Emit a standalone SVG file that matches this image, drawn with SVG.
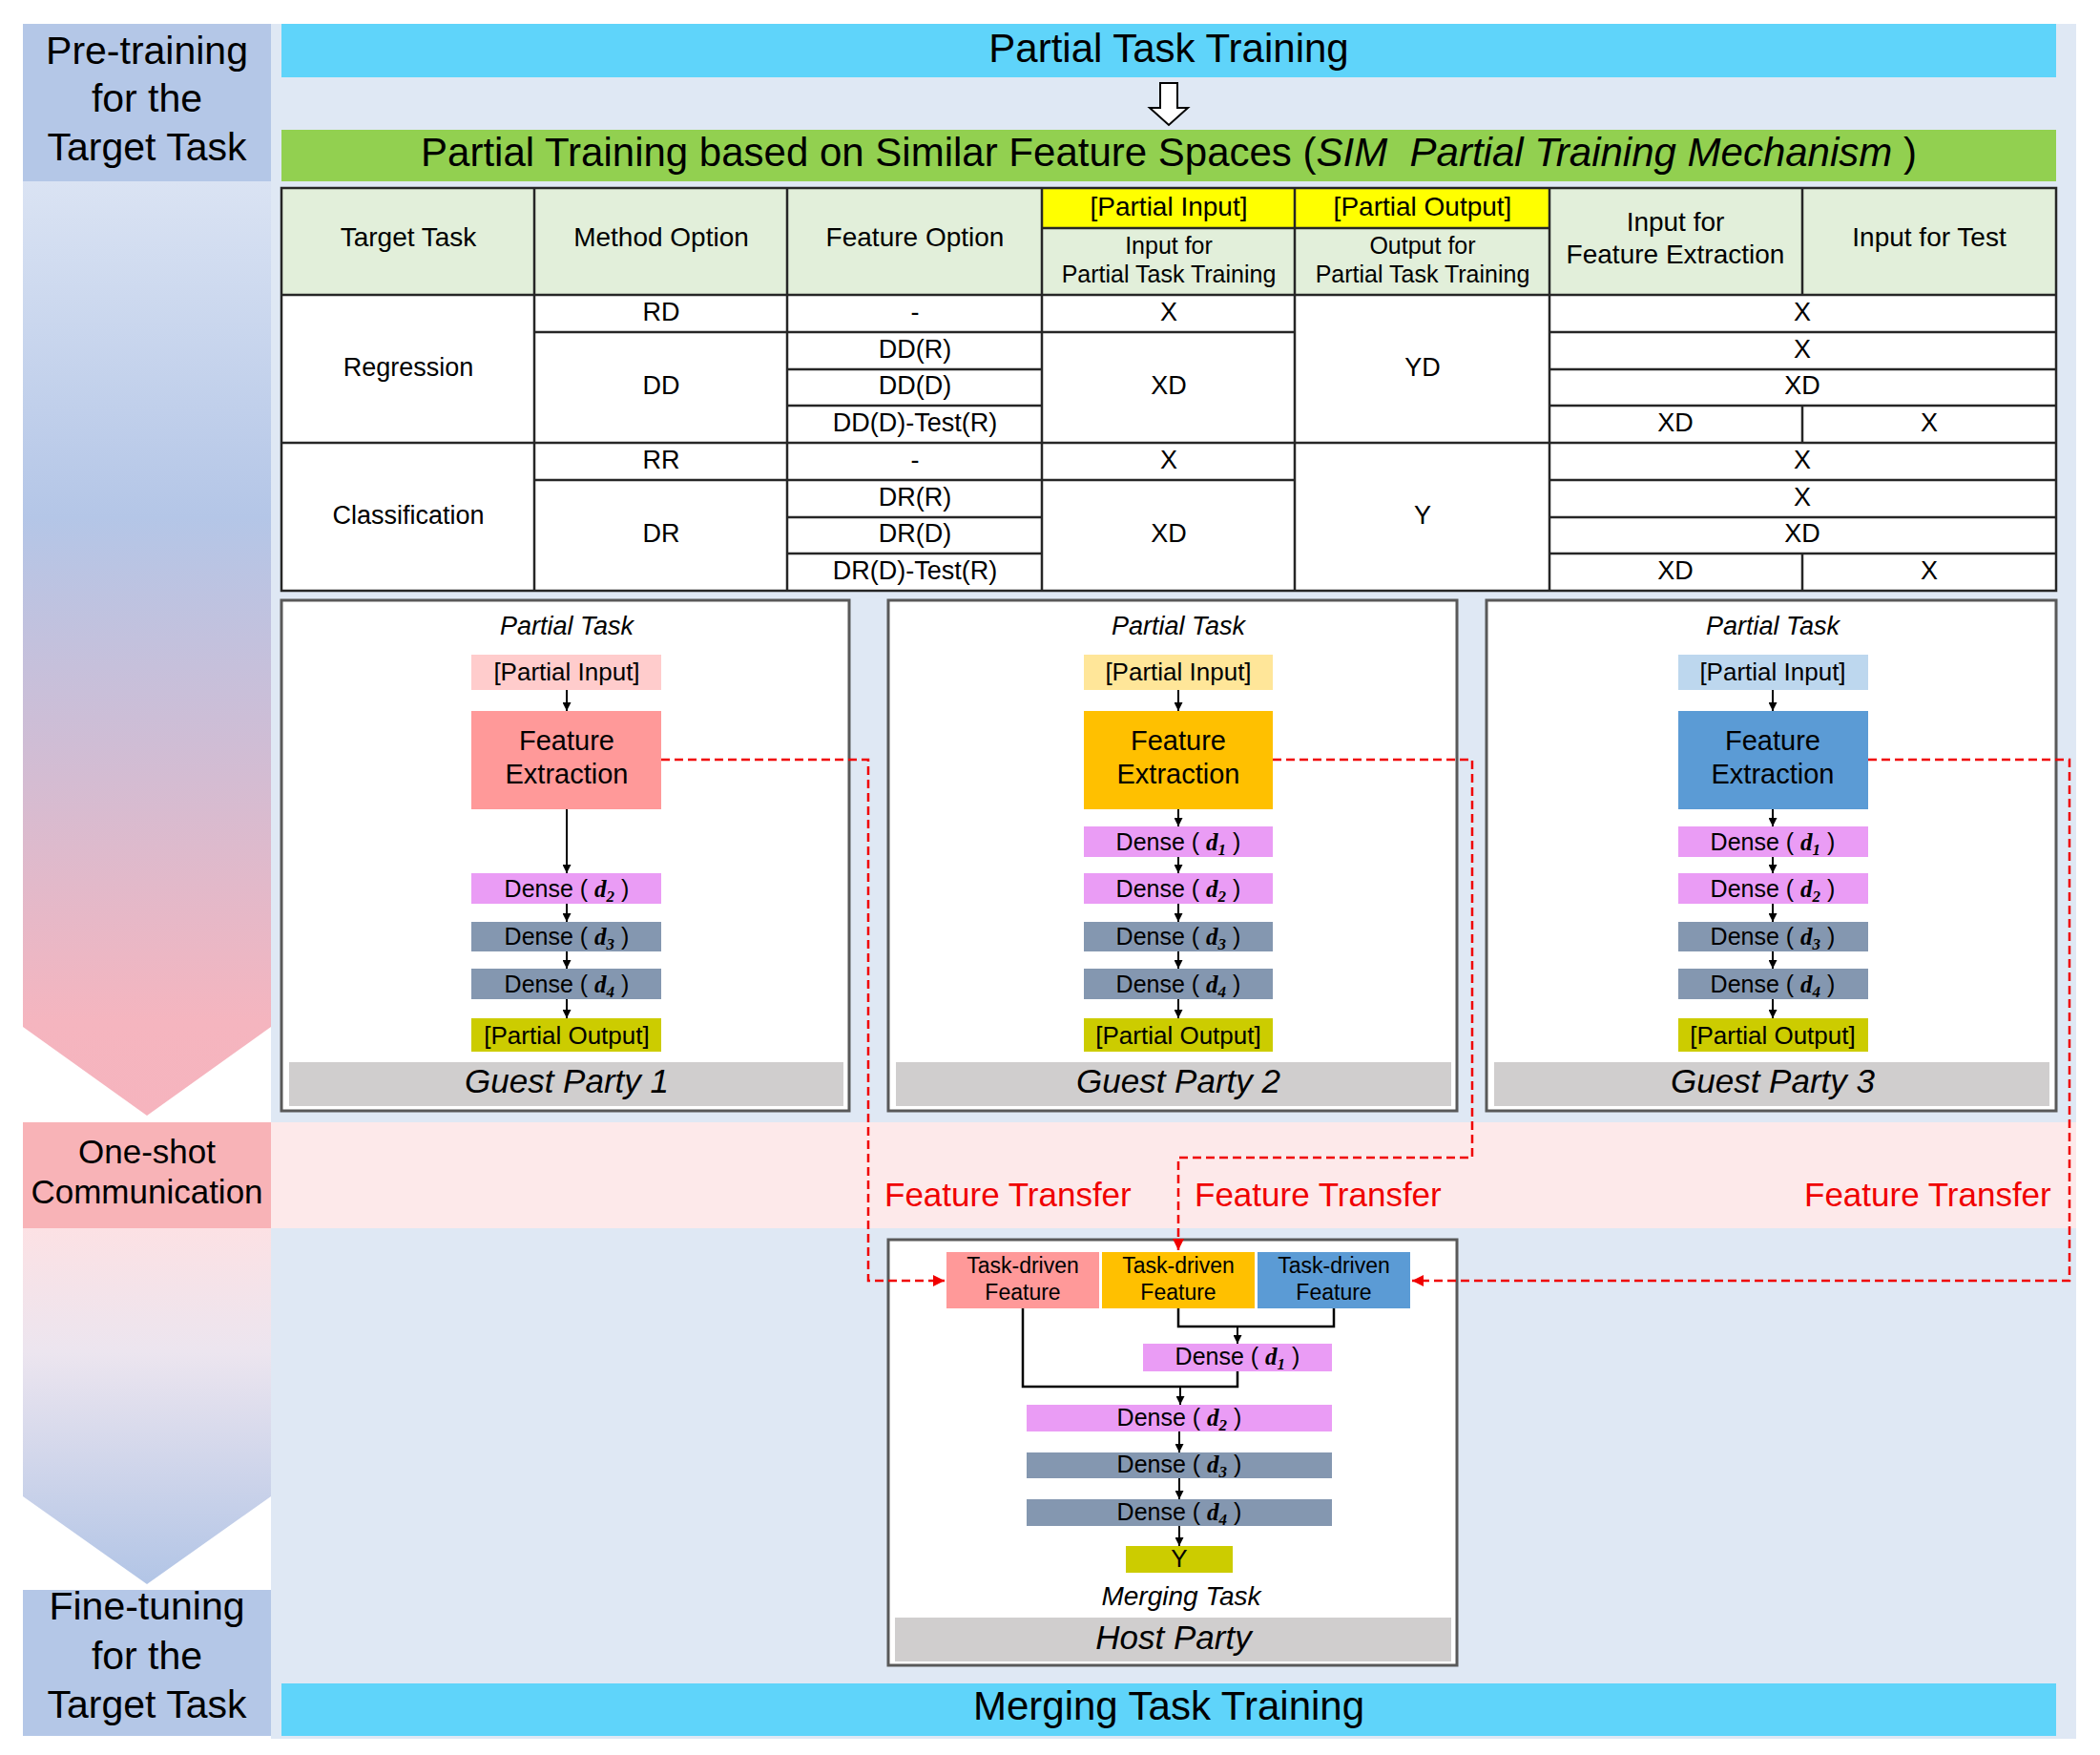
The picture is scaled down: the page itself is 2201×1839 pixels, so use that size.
<svg xmlns="http://www.w3.org/2000/svg" width="2201" height="1839" viewBox="0 0 2201 1839">
<defs>
<style>
text{font-family:"Liberation Sans",Arial,sans-serif;fill:#000;text-anchor:middle}
.it{font-style:italic}
.m{font-family:"Liberation Serif","DejaVu Serif",serif;font-style:italic;font-weight:bold}
.big{font-size:42px}
.lab{font-size:41px}
.th{font-size:28px}
.ts{font-size:25px}
.td{font-size:27px}
.pt{font-size:27px;font-style:italic}
.gp{font-size:35px;font-style:italic}
.blk{font-size:26px}
.fe{font-size:29px}
.dn{font-size:25px}
.tdf{font-size:23px}
.ft{font-size:35px;fill:#f00000;text-anchor:start}
.cell{fill:#fff}
.hd{fill:#e2efda}
.yl{fill:#ffff00}
.grid{stroke:#262626;stroke-width:2.5;fill:none}
.box{fill:#fff;stroke:#595959;stroke-width:3}
.bar{fill:#d0cece}
.pi1{fill:#ffcccc}.fe1{fill:#ff9999}
.pi2{fill:#ffe699}.fe2{fill:#ffc000}
.pi3{fill:#bdd7ee}.fe3{fill:#5b9bd5}
.dv{fill:#ea9cf5}.dg{fill:#8497b0}.po{fill:#cccc00}
.ar{stroke:#000;stroke-width:2;fill:none;marker-end:url(#ah)}
.ln{stroke:#000;stroke-width:2.5;fill:none}
.rda{stroke:#f00000;stroke-width:2.5;fill:none;stroke-dasharray:9 5;marker-end:url(#rah)}
</style>
<marker id="ah" viewBox="0 0 10 10" refX="10" refY="5" markerWidth="9" markerHeight="9" markerUnits="userSpaceOnUse" orient="auto"><path d="M0,0 L10,5 L0,10 z" fill="#000"/></marker>
<marker id="rah" viewBox="0 0 10 10" refX="10" refY="5" markerWidth="13" markerHeight="12" markerUnits="userSpaceOnUse" orient="auto"><path d="M0,0 L10,5 L0,10 z" fill="#f00000"/></marker>
<linearGradient id="g1" x1="0" y1="190" x2="0" y2="1169" gradientUnits="userSpaceOnUse">
<stop offset="0" stop-color="#dae3f3"/><stop offset="0.36" stop-color="#b4c6e7"/><stop offset="0.6" stop-color="#cfbdd5"/><stop offset="0.9" stop-color="#f5b5bf"/><stop offset="1" stop-color="#f6b4be"/>
</linearGradient>
<linearGradient id="g2" x1="0" y1="1287" x2="0" y2="1660" gradientUnits="userSpaceOnUse">
<stop offset="0" stop-color="#fce1e4"/><stop offset="0.35" stop-color="#ece5ef"/><stop offset="1" stop-color="#b2c5e6"/>
</linearGradient>
</defs>
<rect x="0" y="0" width="2201" height="1839" fill="#fff"/>
<g id="background">
<rect x="284" y="25" width="1892" height="1797" fill="#dfe8f4"/>
<rect x="284" y="1176" width="1892" height="111" fill="#fde9ea"/>
</g>
<g id="phase-column">
<rect x="24" y="25" width="260" height="165" fill="#b4c7e7"/>
<text class="lab" x="154" y="67">Pre-training</text>
<text class="lab" x="154" y="117">for the</text>
<text class="lab" x="154" y="168">Target Task</text>
<path d="M24,190 H284 V1076 L154,1169 L24,1076 Z" fill="url(#g1)"/>
<rect x="24" y="1176" width="260" height="111" fill="#f8b3b7"/>
<text x="154" y="1219" style="font-size:35px">One-shot</text>
<text x="154" y="1261" style="font-size:35px">Communication</text>
<path d="M24,1287 H284 V1568 L154,1660 L24,1568 Z" fill="url(#g2)"/>
<rect x="24" y="1666" width="260" height="153" fill="#b4c7e7"/>
<text class="lab" x="154" y="1697">Fine-tuning</text>
<text class="lab" x="154" y="1749">for the</text>
<text class="lab" x="154" y="1800">Target Task</text>
</g>
<g id="partial-task-training">
<rect x="295" y="25" width="1860" height="56" fill="#5fd4fa"/>
<text class="big" x="1225" y="65">Partial Task Training</text>
</g>
<g id="down-arrow">
<polygon points="1216,87 1234,87 1234,113 1245,113 1225,131 1205,113 1216,113" fill="#fff" stroke="#000" stroke-width="2"/>
</g>
<g id="sim-mechanism">
<rect x="295" y="136" width="1860" height="54" fill="#92d050"/>
<text class="big" x="1225" y="174">Partial Training based on Similar Feature Spaces (<tspan class="it">SIM&#160; Partial Training Mechanism</tspan> )</text>
</g>
<g id="table">
<rect x="295" y="197" width="1860" height="112" class="hd"/>
<rect x="1092" y="197" width="532" height="42" class="yl"/>
<rect x="295" y="309" width="1860" height="310" class="cell"/>
<path class="grid" d="M295,197 H2155 V619 H295 Z M560,197 V619 M825,197 V619 M1092,197 V619 M1357,197 V619 M1624,197 V619 M1889,197 V309 M1889,425 V464 M1889,580 V619 M1092,239 H1624 M295,309 H2155 M560,348 H1357 M1624,348 H2155 M825,387 H1092 M1624,387 H2155 M825,425 H1092 M1624,425 H2155 M295,464 H2155 M560,503 H1357 M1624,503 H2155 M825,542 H1092 M1624,542 H2155 M825,580 H1092 M1624,580 H2155"/>
<text class="th" x="428" y="258">Target Task</text>
<text class="th" x="693" y="258">Method Option</text>
<text class="th" x="959" y="258">Feature Option</text>
<text class="th" x="1225" y="226">[Partial Input]</text>
<text class="ts" x="1225" y="266">Input for</text>
<text class="ts" x="1225" y="296">Partial Task Training</text>
<text class="th" x="1491" y="226">[Partial Output]</text>
<text class="ts" x="1491" y="266">Output for</text>
<text class="ts" x="1491" y="296">Partial Task Training</text>
<text class="th" x="1756" y="242">Input for</text>
<text class="th" x="1756" y="276">Feature Extraction</text>
<text class="th" x="2022" y="258">Input for Test</text>
<text class="td" x="428" y="394">Regression</text>
<text class="td" x="693" y="336">RD</text>
<text class="td" x="693" y="413">DD</text>
<text class="td" x="959" y="336">-</text>
<text class="td" x="959" y="375">DD(R)</text>
<text class="td" x="959" y="413">DD(D)</text>
<text class="td" x="959" y="452">DD(D)-Test(R)</text>
<text class="td" x="1225" y="336">X</text>
<text class="td" x="1225" y="413">XD</text>
<text class="td" x="1491" y="394">YD</text>
<text class="td" x="1889" y="336">X</text>
<text class="td" x="1889" y="375">X</text>
<text class="td" x="1889" y="413">XD</text>
<text class="td" x="1756" y="452">XD</text>
<text class="td" x="2022" y="452">X</text>
<text class="td" x="428" y="549">Classification</text>
<text class="td" x="693" y="491">RR</text>
<text class="td" x="693" y="568">DR</text>
<text class="td" x="959" y="491">-</text>
<text class="td" x="959" y="530">DR(R)</text>
<text class="td" x="959" y="568">DR(D)</text>
<text class="td" x="959" y="607">DR(D)-Test(R)</text>
<text class="td" x="1225" y="491">X</text>
<text class="td" x="1225" y="568">XD</text>
<text class="td" x="1491" y="549">Y</text>
<text class="td" x="1889" y="491">X</text>
<text class="td" x="1889" y="530">X</text>
<text class="td" x="1889" y="568">XD</text>
<text class="td" x="1756" y="607">XD</text>
<text class="td" x="2022" y="607">X</text>
</g>
<g id="guest-party-1">
<rect class="box" x="295" y="629" width="595" height="535"/>
<text class="pt" x="594" y="665">Partial Task</text>
<rect class="pi1" x="494" y="686" width="199" height="37"/>
<text class="blk" x="594" y="713">[Partial Input]</text>
<rect class="fe1" x="494" y="745" width="199" height="103"/>
<text class="fe" x="594" y="786">Feature</text>
<text class="fe" x="594" y="821">Extraction</text>
<rect class="dv" x="494" y="915" width="199" height="32"/>
<text class="dn" x="594" y="940">Dense ( <tspan class="m">d</tspan><tspan class="m" style="font-size:17px" dy="5">2</tspan><tspan dy="-5"> )</tspan></text>
<rect class="dg" x="494" y="966" width="199" height="31"/>
<text class="dn" x="594" y="990">Dense ( <tspan class="m">d</tspan><tspan class="m" style="font-size:17px" dy="5">3</tspan><tspan dy="-5"> )</tspan></text>
<rect class="dg" x="494" y="1015" width="199" height="32"/>
<text class="dn" x="594" y="1040">Dense ( <tspan class="m">d</tspan><tspan class="m" style="font-size:17px" dy="5">4</tspan><tspan dy="-5"> )</tspan></text>
<rect class="po" x="494" y="1067" width="199" height="35"/>
<text class="blk" x="594" y="1094">[Partial Output]</text>
<rect class="bar" x="303" y="1113" width="581" height="46"/>
<text class="gp" x="594" y="1145">Guest Party 1</text>
</g>
<g id="guest-party-2">
<rect class="box" x="931" y="629" width="596" height="535"/>
<text class="pt" x="1235" y="665">Partial Task</text>
<rect class="pi2" x="1136" y="686" width="198" height="37"/>
<text class="blk" x="1235" y="713">[Partial Input]</text>
<rect class="fe2" x="1136" y="745" width="198" height="103"/>
<text class="fe" x="1235" y="786">Feature</text>
<text class="fe" x="1235" y="821">Extraction</text>
<rect class="dv" x="1136" y="866" width="198" height="32"/>
<text class="dn" x="1235" y="891">Dense ( <tspan class="m">d</tspan><tspan class="m" style="font-size:17px" dy="5">1</tspan><tspan dy="-5"> )</tspan></text>
<rect class="dv" x="1136" y="915" width="198" height="32"/>
<text class="dn" x="1235" y="940">Dense ( <tspan class="m">d</tspan><tspan class="m" style="font-size:17px" dy="5">2</tspan><tspan dy="-5"> )</tspan></text>
<rect class="dg" x="1136" y="966" width="198" height="31"/>
<text class="dn" x="1235" y="990">Dense ( <tspan class="m">d</tspan><tspan class="m" style="font-size:17px" dy="5">3</tspan><tspan dy="-5"> )</tspan></text>
<rect class="dg" x="1136" y="1015" width="198" height="32"/>
<text class="dn" x="1235" y="1040">Dense ( <tspan class="m">d</tspan><tspan class="m" style="font-size:17px" dy="5">4</tspan><tspan dy="-5"> )</tspan></text>
<rect class="po" x="1136" y="1067" width="198" height="35"/>
<text class="blk" x="1235" y="1094">[Partial Output]</text>
<rect class="bar" x="939" y="1113" width="582" height="46"/>
<text class="gp" x="1235" y="1145">Guest Party 2</text>
</g>
<g id="guest-party-3">
<rect class="box" x="1558" y="629" width="597" height="535"/>
<text class="pt" x="1858" y="665">Partial Task</text>
<rect class="pi3" x="1759" y="686" width="199" height="37"/>
<text class="blk" x="1858" y="713">[Partial Input]</text>
<rect class="fe3" x="1759" y="745" width="199" height="103"/>
<text class="fe" x="1858" y="786">Feature</text>
<text class="fe" x="1858" y="821">Extraction</text>
<rect class="dv" x="1759" y="866" width="199" height="32"/>
<text class="dn" x="1858" y="891">Dense ( <tspan class="m">d</tspan><tspan class="m" style="font-size:17px" dy="5">1</tspan><tspan dy="-5"> )</tspan></text>
<rect class="dv" x="1759" y="915" width="199" height="32"/>
<text class="dn" x="1858" y="940">Dense ( <tspan class="m">d</tspan><tspan class="m" style="font-size:17px" dy="5">2</tspan><tspan dy="-5"> )</tspan></text>
<rect class="dg" x="1759" y="966" width="199" height="31"/>
<text class="dn" x="1858" y="990">Dense ( <tspan class="m">d</tspan><tspan class="m" style="font-size:17px" dy="5">3</tspan><tspan dy="-5"> )</tspan></text>
<rect class="dg" x="1759" y="1015" width="199" height="32"/>
<text class="dn" x="1858" y="1040">Dense ( <tspan class="m">d</tspan><tspan class="m" style="font-size:17px" dy="5">4</tspan><tspan dy="-5"> )</tspan></text>
<rect class="po" x="1759" y="1067" width="199" height="35"/>
<text class="blk" x="1858" y="1094">[Partial Output]</text>
<rect class="bar" x="1566" y="1113" width="582" height="46"/>
<text class="gp" x="1858" y="1145">Guest Party 3</text>
</g>
<g id="host-party">
<rect class="box" x="931" y="1299" width="596" height="446"/>
<rect class="fe1" x="992" y="1312" width="160" height="59"/>
<text class="tdf" x="1072" y="1334">Task-driven</text>
<text class="tdf" x="1072" y="1362">Feature</text>
<rect class="fe2" x="1155" y="1312" width="160" height="59"/>
<text class="tdf" x="1235" y="1334">Task-driven</text>
<text class="tdf" x="1235" y="1362">Feature</text>
<rect class="fe3" x="1318" y="1312" width="160" height="59"/>
<text class="tdf" x="1398" y="1334">Task-driven</text>
<text class="tdf" x="1398" y="1362">Feature</text>
<rect class="dv" x="1198" y="1408" width="198" height="29"/>
<text class="dn" x="1297" y="1430">Dense ( <tspan class="m">d</tspan><tspan class="m" style="font-size:17px" dy="5">1</tspan><tspan dy="-5"> )</tspan></text>
<rect class="dv" x="1076" y="1472" width="320" height="28"/>
<text class="dn" x="1236" y="1494">Dense ( <tspan class="m">d</tspan><tspan class="m" style="font-size:17px" dy="5">2</tspan><tspan dy="-5"> )</tspan></text>
<rect class="dg" x="1076" y="1522" width="320" height="27"/>
<text class="dn" x="1236" y="1543">Dense ( <tspan class="m">d</tspan><tspan class="m" style="font-size:17px" dy="5">3</tspan><tspan dy="-5"> )</tspan></text>
<rect class="dg" x="1076" y="1571" width="320" height="28"/>
<text class="dn" x="1236" y="1593">Dense ( <tspan class="m">d</tspan><tspan class="m" style="font-size:17px" dy="5">4</tspan><tspan dy="-5"> )</tspan></text>
<rect class="po" x="1180" y="1620" width="112" height="28"/>
<text class="blk" x="1236" y="1642">Y</text>
<text class="pt" x="1238" y="1682" style="font-size:28px">Merging Task</text>
<rect class="bar" x="938" y="1695" width="583" height="46"/>
<text class="gp" x="1230" y="1728">Host Party</text>
</g>
<g id="merging-task-training">
<rect x="295" y="1764" width="1860" height="55" fill="#5fd4fa"/>
<text class="big" x="1225" y="1802">Merging Task Training</text>
</g>
<g id="connectors">
<line class="ar" x1="594" y1="723" x2="594" y2="745"/>
<line class="ar" x1="594" y1="848" x2="594" y2="915"/>
<line class="ar" x1="594" y1="947" x2="594" y2="966"/>
<line class="ar" x1="594" y1="997" x2="594" y2="1015"/>
<line class="ar" x1="594" y1="1047" x2="594" y2="1067"/>
<line class="ar" x1="1235" y1="723" x2="1235" y2="745"/>
<line class="ar" x1="1235" y1="848" x2="1235" y2="866"/>
<line class="ar" x1="1235" y1="898" x2="1235" y2="915"/>
<line class="ar" x1="1235" y1="947" x2="1235" y2="966"/>
<line class="ar" x1="1235" y1="997" x2="1235" y2="1015"/>
<line class="ar" x1="1235" y1="1047" x2="1235" y2="1067"/>
<line class="ar" x1="1858" y1="723" x2="1858" y2="745"/>
<line class="ar" x1="1858" y1="848" x2="1858" y2="866"/>
<line class="ar" x1="1858" y1="898" x2="1858" y2="915"/>
<line class="ar" x1="1858" y1="947" x2="1858" y2="966"/>
<line class="ar" x1="1858" y1="997" x2="1858" y2="1015"/>
<line class="ar" x1="1858" y1="1047" x2="1858" y2="1067"/>
<path class="ln" d="M1235,1371 V1390 M1398,1371 V1390 M1233.75,1390 H1399.25"/>
<line class="ar" x1="1297" y1="1390" x2="1297" y2="1408"/>
<path class="ln" d="M1072,1371 V1453 H1298.25 M1297,1437 V1453"/>
<line class="ar" x1="1237" y1="1453" x2="1237" y2="1472"/>
<line class="ar" x1="1236" y1="1500" x2="1236" y2="1522"/>
<line class="ar" x1="1236" y1="1549" x2="1236" y2="1571"/>
<line class="ar" x1="1236" y1="1599" x2="1236" y2="1620"/>
<path class="rda" d="M693,796 H910 V1342 H990"/>
<path class="rda" d="M1334,796 H1543 V1213 H1235 V1310"/>
<path class="rda" d="M1958,796 H2169 V1342 H1480"/>
</g>
<g id="feature-transfer-labels">
<text class="ft" x="927" y="1264">Feature Transfer</text>
<text class="ft" x="1252" y="1264">Feature Transfer</text>
<text class="ft" x="1891" y="1264">Feature Transfer</text>
</g>
</svg>
